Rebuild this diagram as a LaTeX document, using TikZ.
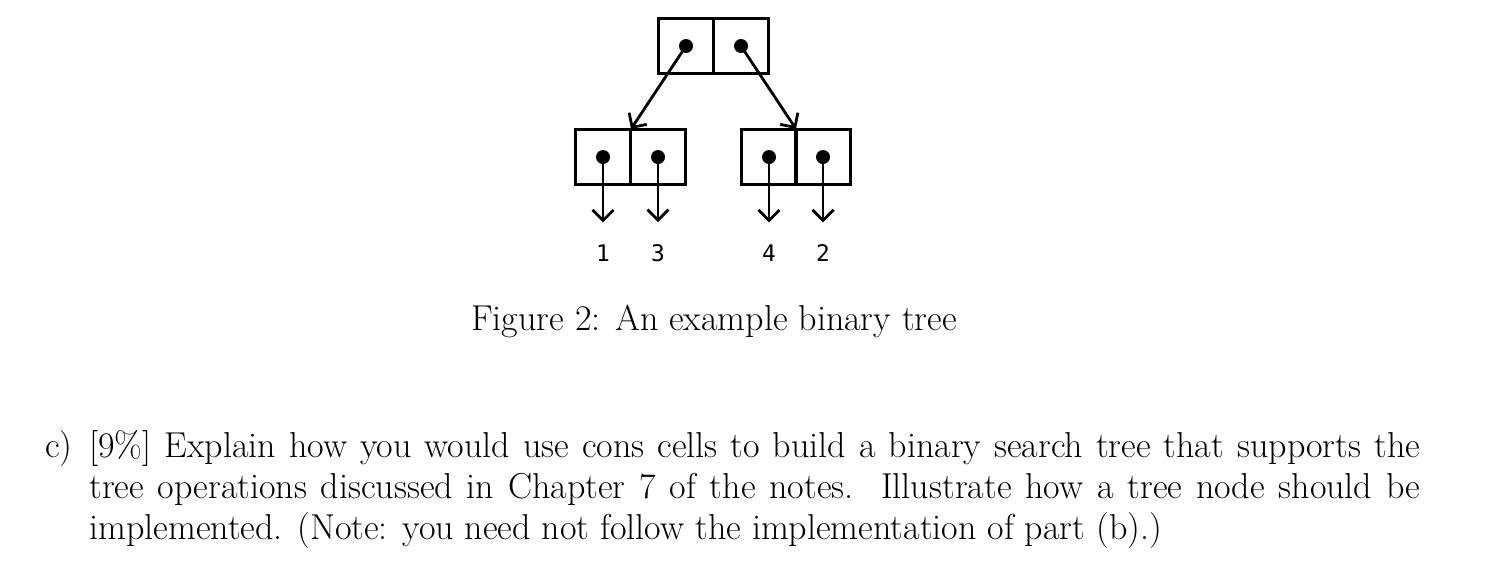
\documentclass[tikz,border=0pt]{standalone}
\usepackage{fontspec}
\newfontfamily\monof{DejaVu Sans Mono}
\usetikzlibrary{arrows.meta}
\begin{document}
\begin{tikzpicture}[x=0.02cm,y=-0.02cm,
  box/.style={draw,line width=1.2pt,minimum width=1.1cm,minimum height=1.1cm,inner sep=0pt},
  dot/.style={circle,fill,inner sep=0pt,minimum size=0.28cm},
  ptr/.style={line width=1.6pt,-{Straight Barb[length=6pt,width=12pt,line width=1.6pt]}},
  lab/.style={font=\monof\fontsize{13}{16}\selectfont},
  txt/.style={inner sep=0pt,anchor=base west,font=\fontsize{20.5}{25}\selectfont}]
\useasboundingbox (0,0) rectangle (1486,586);
% top cell
\node[box] (ta) at (686,46) {}; \node[box] (tb) at (741,46) {};
\node[dot] (tad) at (686,46) {}; \node[dot] (tbd) at (741,46) {};
% left cell
\node[box] (la) at (603,157) {}; \node[box] (lb) at (658,157) {};
\node[dot] (lad) at (603,157) {}; \node[dot] (lbd) at (658,157) {};
% right cell
\node[box] (ra) at (769,157) {}; \node[box] (rb) at (823,157) {};
\node[dot] (rad) at (769,157) {}; \node[dot] (rbd) at (823,157) {};
\coordinate (lt) at (631,129); \coordinate (rt) at (796,129);
\draw[ptr] (tad.center) -- (lt);
\draw[ptr] (tbd.center) -- (rt);
\node[lab] (n1) at (603,253) {1};
\node[lab] (n3) at (658,253) {3};
\node[lab] (n4) at (769,253) {4};
\node[lab] (n2) at (823,253) {2};
\foreach \a/\b in {lad/n1,lbd/n3,rad/n4,rbd/n2}
  \draw[ptr] (\a.center) -- ([yshift=0.32cm]\b.north);
\node[txt,anchor=base] (cap) at (714,330) {Figure 2: An example binary tree};
\node[txt] (c) at (45,457) {c)};
\node[txt] (l1) at (89,457) {\makebox[26.62cm][s]{[9\%] Explain how you would use cons cells to build a binary search tree that supports the}};
\node[txt] (l2) at (89,498) {\makebox[26.62cm][s]{tree operations discussed in Chapter 7 of the notes.\ \ Illustrate how a tree node should be}};
\node[txt] (l3) at (89,539) {implemented. (Note: you need not follow the implementation of part (b).)};
\end{tikzpicture}
\end{document}
